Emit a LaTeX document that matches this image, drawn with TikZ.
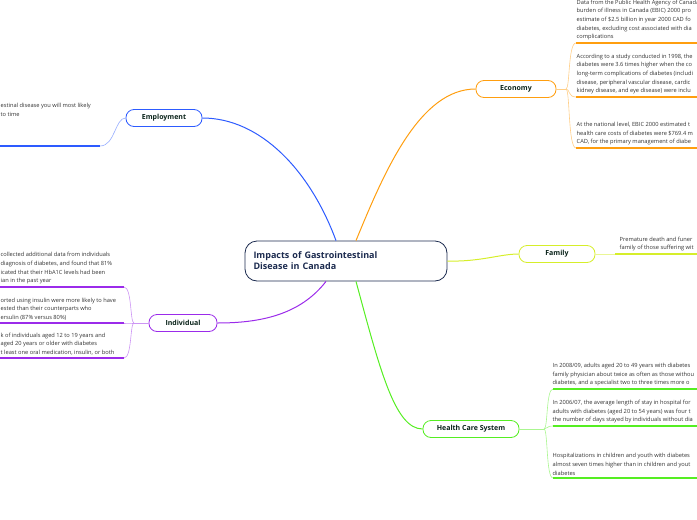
\documentclass[tikz,border=0pt]{standalone}
\usepackage{fontspec}
\setmainfont{Open Sans}
\usetikzlibrary{positioning}
\definecolor{navy}{HTML}{1B2A4E}
\definecolor{ecoc}{HTML}{FF9E0F}
\definecolor{empc}{HTML}{2D5BFF}
\definecolor{famc}{HTML}{D6EE2A}
\definecolor{indc}{HTML}{9B2BEA}
\definecolor{hcsc}{HTML}{55EE22}
\tikzset{
  topic/.style={draw=#1,rounded corners=8pt,fill=white,minimum height=17pt,font=\fontsize{7}{8}\selectfont\bfseries,text=navy!80!green!40!black,line width=0.8pt},
  leaf/.style={anchor=south west,align=left,inner sep=1.5pt,font=\fontsize{5.7}{8.7}\selectfont,text=black!80},
  branch/.style={draw=#1,line width=1pt},
  twig/.style={draw=#1,line width=1.2pt},
  bend/.style={draw=#1!50,line width=0.6pt}
}
\begin{document}
\begin{tikzpicture}[x=1pt,y=-1pt]
\useasboundingbox (0,0) rectangle (697,520);
\node[draw=navy,rounded corners=12pt,minimum width=202pt,minimum height=40pt,text width=185pt,align=left,font=\fontsize{9}{11}\selectfont\bfseries,text=navy,line width=0.8pt] (root) at (346,261) {Impacts of Gastrointestinal\\Disease in Canada};

\node[topic=ecoc,minimum width=80pt] (eco) at (516,89) {Economy};
\node[topic=empc,minimum width=76pt] (emp) at (164,118) {Employment};
\node[topic=famc,minimum width=76pt] (fam) at (557,254) {Family};
\node[topic=indc,minimum width=68pt] (ind) at (183,323) {Individual};
\node[topic=hcsc,minimum width=96pt] (hcs) at (471,429) {Health Care System};

% main branches
\draw[branch=ecoc] (root.north)+(10,0) .. controls (385,170) and (420,89) .. (eco.west);
\draw[branch=empc] (root.north)+(-10,0) .. controls (310,170) and (260,118) .. (emp.east);
\draw[branch=famc] (root.east) .. controls (480,262) and (500,254) .. (fam.west);
\draw[branch=indc] (root.south)+(-20,0) .. controls (300,315) and (260,323) .. (ind.east);
\draw[branch=hcsc] (root.south)+(10,0) .. controls (380,370) and (395,429) .. (hcs.west);

% economy
\coordinate (ecoj) at (566,89);
\draw[bend=ecoc] (eco.east) -- (ecoj);
\foreach \y in {43,97,148}{
  \draw[bend=ecoc] (ecoj) .. controls (570,89) and (568,\y) .. (576,\y);
  \draw[twig=ecoc] (576,\y) -- (697,\y);
}
\node[leaf] at (575,42) {Data from the Public Health Agency of Canada\\burden of illness in Canada (EBIC) 2000 pro\\estimate of \$2.5 billion in year 2000 CAD fo\\diabetes, excluding cost associated with dia\\complications};
\node[leaf] at (575,96) {According to a study conducted in 1998, the\\diabetes were 3.6 times higher when the co\\long-term complications of diabetes (includi\\disease, peripheral vascular disease, cardic\\kidney disease, and eye disease) were inclu};
\node[leaf] at (575,147) {At the national level, EBIC 2000 estimated t\\health care costs of diabetes were \$769.4 m\\CAD, for the primary management of diabe};

% employment
\draw[bend=empc] (emp.west) .. controls (115,118) and (115,146) .. (100,146);
\draw[twig=empc] (100,146) -- (0,146);
\node[leaf] at (-1,118) {estinal disease you will most likely\\to time};

% family
\draw[bend=famc] (fam.east) -- (615,254);
\draw[twig=famc] (615,254) -- (697,254);
\node[leaf] at (618,253) {Premature death and funer\\family of those suffering wit};

% individual
\coordinate (indj) at (134,323);
\draw[bend=indc] (ind.west) -- (indj);
\foreach \y in {287,323,358}{
  \draw[bend=indc] (indj) .. controls (130,323) and (132,\y) .. (124,\y);
  \draw[twig=indc] (124,\y) -- (0,\y);
}
\node[leaf] at (-1,286) {collected additional data from individuals\\diagnosis of diabetes, and found that 81\%\\icated that their HbA1C levels had been\\ian in the past year};
\node[leaf] at (-1,322) {orted using insulin were more likely to have\\ested than their counterparts who\\ersulin (87\% versus 80\%)};
\node[leaf] at (-1,357) {k of individuals aged 12 to 19 years and\\aged 20 years or older with diabetes\\t least one oral medication, insulin, or both};

% health care system
\coordinate (hcsj) at (544,429);
\draw[bend=hcsc] (hcs.east) -- (hcsj);
\foreach \y in {389,426,478}{
  \draw[bend=hcsc] (hcsj) .. controls (548,429) and (546,\y) .. (553,\y);
  \draw[twig=hcsc] (553,\y) -- (697,\y);
}
\node[leaf] at (551,388) {In 2008/09, adults aged 20 to 49 years with diabetes\\family physician about twice as often as those withou\\diabetes, and a specialist two to three times more o};
\node[leaf] at (551,425) {In 2006/07, the average length of stay in hospital for\\adults with diabetes (aged 20 to 54 years) was four t\\the number of days stayed by individuals without dia};
\node[leaf] at (551,477) {Hospitalizations in children and youth with diabetes\\almost seven times higher than in children and yout\\diabetes};
\end{tikzpicture}
\end{document}
